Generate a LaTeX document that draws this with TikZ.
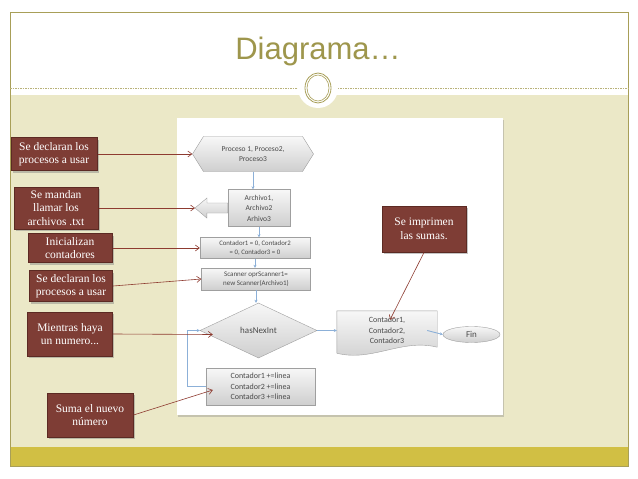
\documentclass[tikz,border=0pt]{standalone}
\usepackage{fontspec}
\setmainfont{Liberation Serif}
\newfontfamily\titlefont{Liberation Sans}
\newfontfamily\flowfont{Carlito}
\usetikzlibrary{shapes.symbols,shapes.geometric,shadows,arrows.meta}
\definecolor{olivetitle}{HTML}{9E964C}
\definecolor{oliveframe}{HTML}{A89F58}
\definecolor{beige}{HTML}{EBE8C7}
\definecolor{band}{HTML}{D1BF44}
\definecolor{calloutred}{HTML}{7E3D35}
\definecolor{calloutedge}{HTML}{5C2A23}
\definecolor{notered}{HTML}{8E3B30}
\definecolor{flowblue}{HTML}{8CB0D8}
\definecolor{flowtext}{HTML}{4A4A4A}
\begin{document}
\begin{tikzpicture}[x=1pt,y=-1pt,
  callout/.style={draw=calloutedge,line width=1pt,fill=calloutred,text=white,align=center,
    inner sep=1pt,font=\fontsize{11.5}{13.5}\selectfont,
    drop shadow={shadow xshift=1.5pt,shadow yshift=-2pt,opacity=0.45}},
  flowbox/.style={draw=gray!75,top color=gray!6,bottom color=gray!38,text=flowtext,align=center,inner sep=1pt},
  flowline/.style={draw=flowblue,line width=0.9pt,-{Stealth[length=3pt,width=3pt]}},
  noteline/.style={draw=notered,line width=0.6pt,-{Straight Barb[length=4pt,width=6pt]}}]
\useasboundingbox (0,0) rectangle (638,479);
% background of the slide
\fill[white] (0,0) rectangle (638,479);
\fill[beige] (10,95) rectangle (628,447);
\fill[band] (10,447) rectangle (628,466);
\draw[oliveframe,line width=0.8pt] (10,12) rectangle (628,466);
\draw[oliveframe!80,line width=0.6pt,dash pattern=on 1.5pt off 1pt] (10,88) -- (628,88);
\fill[white] (318,88) circle (20);
\draw[oliveframe,line width=0.8pt] (318,88) ellipse (13 and 15);
\draw[oliveframe,line width=0.6pt] (318,88) ellipse (11 and 13);
\node[font=\titlefont\fontsize{31}{31}\selectfont,text=olivetitle,anchor=base] (titulo) at (318,59) {Diagrama…};
% white panel of the flowchart
\fill[white,drop shadow={shadow xshift=1pt,shadow yshift=-2pt,opacity=0.35}] (177,118) rectangle (503,415);
% flowchart
\node[flowbox,shape=signal,signal to=west and east,signal pointer angle=116,minimum width=121pt,minimum height=35pt,
  font=\flowfont\fontsize{7.5}{10.5}\selectfont] (proc) at (253,154) {Proceso 1, Proceso2,\\Proceso3};
\node[flowbox,minimum width=62pt,minimum height=37pt,font=\flowfont\fontsize{7.5}{10.5}\selectfont] (archivo) at (259,208) {Archivo1,\\Archivo2\\Arhivo3};
% block arrow on the left of the files box
\coordinate (flecha) at (195,208);
\path[draw=gray!75,top color=gray!6,bottom color=gray!38] (flecha) -- ++(12,-10) -- ++(0,5) -- (archivo.west |- 0,203)
  -- (archivo.west |- 0,213) -- ++(-21,0) -- ++(0,5) -- cycle;
\node[flowbox,minimum width=110pt,minimum height=21pt,font=\flowfont\fontsize{6.8}{8.5}\selectfont] (cont) at (255,248) {Contador1 = 0, Contador2\\= 0, Contador3 = 0};
\node[flowbox,minimum width=109pt,minimum height=22pt,font=\flowfont\fontsize{7}{9}\selectfont] (scanner) at (256,279) {Scanner oprScanner1=\\new Scanner(Archivo1)};
\node[flowbox,diamond,aspect=2.1,inner sep=0pt,minimum width=117pt,minimum height=55pt,
  font=\flowfont\fontsize{9}{10}\selectfont] (hasnext) at (258.5,330.5) {hasNexInt};
\node[flowbox,minimum width=109pt,minimum height=37pt,font=\flowfont\fontsize{8}{10.5}\selectfont] (sumas) at (260.5,386.5) {Contador1 +=linea\\Contador2 +=linea\\Contador3 +=linea};
\node[minimum width=100pt,minimum height=39pt,inner sep=1pt] (salida) at (387,330.5) {};
\node[flowbox,ellipse,minimum width=57pt,minimum height=16pt,inner sep=0pt,
  font=\flowfont\fontsize{9}{10}\selectfont] (fin) at (471.5,334.5) {Fin};
% document shape drawn round its text
\path[draw=gray!75,top color=gray!6,bottom color=gray!38] (salida.north west) -- (salida.north east)
  -- ([yshift=3pt]salida.south east) .. controls +(-35,-9) and +(35,9) .. ([yshift=-3pt]salida.south west) -- cycle;
\node[text=flowtext,align=center,font=\flowfont\fontsize{8}{10.5}\selectfont] (salidatxt) at (salida) {Contador1,\\Contador2,\\Contador3};
% flow connectors
\draw[flowline] (proc.south) -- (proc.south |- archivo.north);
\draw[flowline] (archivo.south) -- (archivo.south |- cont.north);
\draw[flowline] (cont.south) -- (cont.south |- scanner.north);
\draw[flowline] (scanner.south) -- (scanner.south |- hasnext.north);
\draw[flowline] (hasnext.east) -- (salida.west);
\draw[flowline] ([xshift=-10pt]salida.east) -- (fin.west);
\draw[flowline] (sumas.west) -- ++(-18,0) |- (hasnext.west);
% callouts
\node[callout,minimum width=86pt,minimum height=33pt] (decl) at (54,154) {Se declaran los\\procesos a usar};
\node[callout,minimum width=84pt,minimum height=42pt] (arch) at (56,208) {Se mandan\\llamar los\\archivos .txt};
\node[callout,minimum width=84pt,minimum height=29pt] (ini) at (70,248) {Inicializan\\contadores};
\node[callout,minimum width=83pt,minimum height=31pt] (scan) at (71,286) {Se declaran los\\procesos a usar};
\node[callout,minimum width=85pt,minimum height=44pt] (loop) at (70,334) {Mientras haya\\un numero...};
\node[callout,minimum width=86pt,minimum height=44pt] (suma) at (90,415) {Suma el nuevo\\número};
\node[callout,minimum width=84pt,minimum height=46pt] (impr) at (424,229) {Se imprimen\\las sumas.};
\draw[noteline] (decl.east) -- (proc.west);
\draw[noteline] (arch.east) -- (flecha);
\draw[noteline] (ini.east) -- (cont.west);
\draw[noteline] (scan.east) -- (scanner.west);
\draw[noteline] (loop.east) -- ([xshift=13pt,yshift=-4pt]hasnext.west);
\draw[noteline] (suma.east) -- ([xshift=7pt,yshift=-3.5pt]sumas.west);
\draw[noteline] (impr.south) -- ([xshift=3pt,yshift=-9pt]salida.north);
\end{tikzpicture}
\end{document}
